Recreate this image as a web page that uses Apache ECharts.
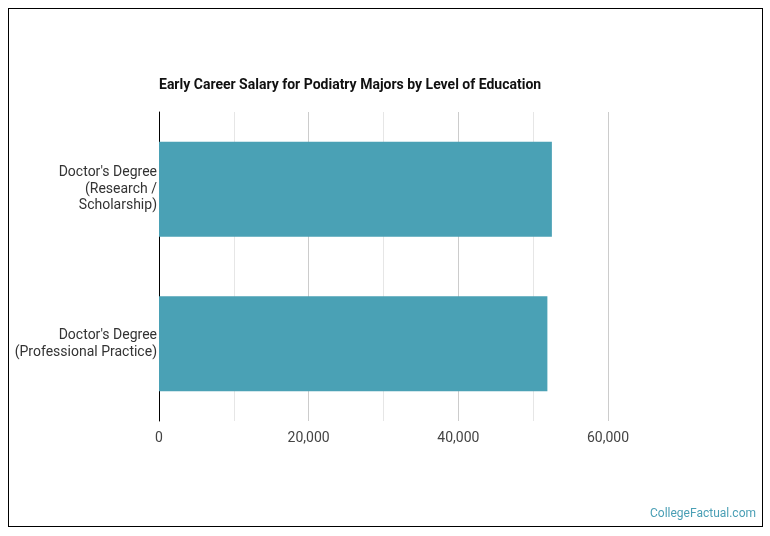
<!DOCTYPE html>
<html>
<head>
<meta charset="utf-8">
<script src="https://cdn.jsdelivr.net/npm/echarts@6/dist/echarts.min.js"></script>
<style>
    html, body { margin: 0; padding: 0; background: #fff; }
    #frame { position: absolute; left: 8px; top: 8px; width: 753px; height: 517px; border: 1px solid #000; }
    #chart { position: absolute; left: 0; top: 0; width: 770px; height: 536px; }
</style>
</head>
<body>
<div id="frame"></div>
<div id="chart"></div>
<script>
    // data
    var categories = ["Doctor's Degree\n(Professional Practice)", "Doctor's Degree\n(Research /\nScholarship)"];
    var salaries = [51900, 52500];
    var tickLabels = ['0', '20,000', '40,000', '60,000'];

    var myChart = echarts.init(document.getElementById('chart'));
    var option = {
        animation: false,
        textStyle: { fontFamily: 'Roboto' },
        title: {
            text: 'Early Career Salary for Podiatry Majors by Level of Education',
            left: 154,
            top: 73,
            textStyle: { fontSize: 14, fontWeight: 'bold', color: '#111', fontFamily: 'Roboto' }
        },
        graphic: [{
            type: 'text',
            right: 14,
            top: 508,
            style: { text: 'CollegeFactual.com', fill: '#4a9fb5', fontSize: 12, fontFamily: 'Roboto' }
        }],
        grid: { left: 159, top: 112, width: 449, height: 309, containLabel: false },
        xAxis: {
            type: 'value',
            min: 0,
            max: 60000,
            interval: 10000,
            axisLine: { show: false },
            axisTick: { show: false },
            axisLabel: {
                margin: 10,
                fontSize: 14,
                color: '#444',
                formatter: function (v) {
                    if (v % 20000 !== 0) {
                        return '';
                    }
                    return tickLabels[v / 20000];
                }
            },
            splitLine: { lineStyle: { color: ['#cccccc', '#e6e6e6'], width: 1 } }
        },
        yAxis: {
            type: 'category',
            data: categories,
            axisLine: { show: true, lineStyle: { color: '#000', width: 1 } },
            axisTick: { show: false },
            axisLabel: {
                margin: 2, fontSize: 14, color: '#333', lineHeight: 16.5, align: 'right',
                padding: [5, 0, 0, 0]
            }
        },
        series: [{
            type: 'bar',
            data: salaries,
            barWidth: 95,
            itemStyle: { color: '#4aa1b5' }
        }]
    };
    myChart.setOption(option);
</script>
</body>
</html>
